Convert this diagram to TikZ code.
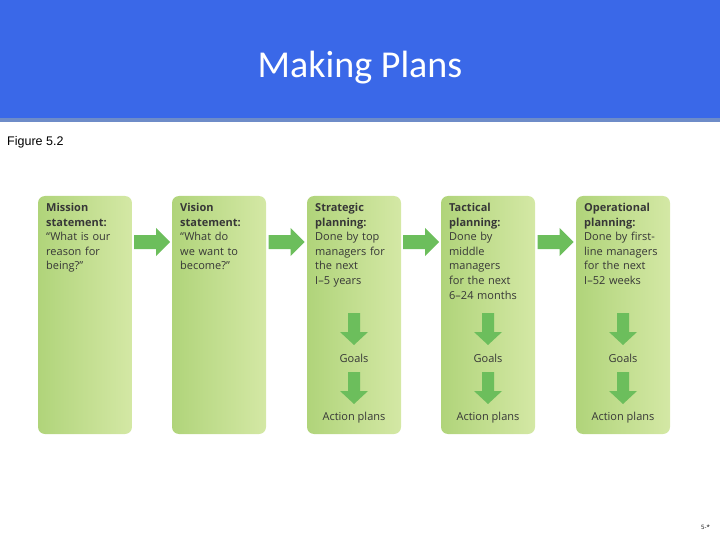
\documentclass[tikz,border=0pt]{standalone}
\usepackage{fontspec}
\setmainfont{Open Sans}
\newfontfamily\titlefont{Carlito}
\newfontfamily\figfont{Liberation Sans}
\definecolor{hdrblue}{RGB}{58,104,232}
\definecolor{hdrline}{RGB}{110,140,200}
\definecolor{boxlight}{RGB}{212,232,165}
\definecolor{boxdark}{RGB}{176,212,122}
\definecolor{arrgreen}{RGB}{108,190,92}
\definecolor{txtgrey}{RGB}{55,55,55}
\tikzset{
  stagebox/.style={draw=none, rounded corners=7pt, minimum width=94pt, minimum height=238pt,
    left color=boxdark, right color=boxlight},
  stagetext/.style={anchor=north west, inner sep=0pt, text width=90pt, align=left,
    font=\fontsize{11}{14.6}\selectfont, text=txtgrey},
  outlbl/.style={font=\fontsize{11}{12}\selectfont, text=txtgrey}
}
\begin{document}
\begin{tikzpicture}[x=1pt, y=-1pt]
  \useasboundingbox (0,0) rectangle (720,540);
  \fill[hdrblue] (0,0) rectangle (720,118);
  \fill[hdrline] (0,118) rectangle (720,122);
  \node[text=white, font=\titlefont\fontsize{38}{42}\selectfont] (title) at (360,68) {Making Plans};
  \node[anchor=west, inner sep=0pt, font=\figfont\fontsize{12.5}{14}\selectfont] (fig) at (7,142) {Figure 5.2};
  \node[anchor=east, inner sep=0pt, font=\fontsize{6}{7}\selectfont] (pg) at (710,527) {5-*};

  % stages
  \foreach \i/\x in {1/85, 2/219, 3/354, 4/488, 5/623}
    \node[stagebox] (b\i) at (\x,315) {};

  \node[stagetext] (t1) at (46,203) {\textbf{Mission}\\\textbf{statement:}\\``What is our\\reason for\\being?''};
  \node[stagetext] (t2) at (180,203) {\textbf{Vision}\\\textbf{statement:}\\``What do\\we want to\\become?''};
  \node[stagetext] (t3) at (315,203) {\textbf{Strategic}\\\textbf{planning:}\\Done by top\\managers for\\the next\\I--5 years};
  \node[stagetext] (t4) at (449,203) {\textbf{Tactical}\\\textbf{planning:}\\Done by\\middle\\managers\\for the next\\6--24 months};
  \node[stagetext] (t5) at (584,203) {\textbf{Operational}\\\textbf{planning:}\\Done by first-\\line managers\\for the next\\I--52 weeks};

  % arrows between stages
  \foreach \x in {152, 286.5, 421, 555.5}
    \fill[arrgreen, shift={(\x,242)}] (-18,-7) -- (4,-7) -- (4,-14) -- (18,0)
      -- (4,14) -- (4,7) -- (-18,7) -- cycle;

  % goals and action plans
  \foreach \i in {3,4,5} {
    \node[outlbl] (g\i) at (b\i |- 0,358) {Goals};
    \node[outlbl] (a\i) at (b\i |- 0,418) {Action plans};
    \foreach \y in {329, 388}
      \fill[arrgreen, shift={(b\i |- 0,\y)}] (-6,-16) -- (6,-16) -- (6,3) -- (14,3)
        -- (0,16) -- (-14,3) -- (-6,3) -- cycle;
  }
\end{tikzpicture}
\end{document}
